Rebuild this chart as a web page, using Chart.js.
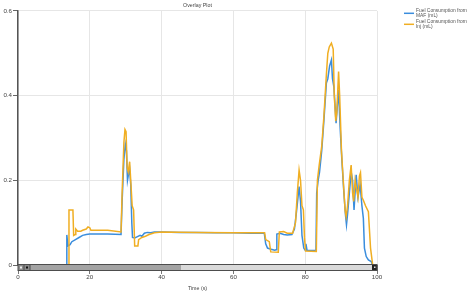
<!DOCTYPE html>
<html>
<head>
<meta charset="utf-8">
<script src="https://cdn.jsdelivr.net/npm/chart.js@4/dist/chart.umd.min.js"></script>
<style>
  html, body { margin: 0; padding: 0; background: #fff; }
  canvas { display: block; }
</style>
</head>
<body>
<canvas id="chart" width="474" height="297"></canvas>
<script>
/* ===================== DATA ===================== */
const mafTime = [0, 13.4, 13.6, 13.9, 14.5, 15, 16, 17, 18, 19, 20, 25, 28.7, 29.0, 29.5, 29.9, 30.2, 30.5, 30.8, 31.1, 31.4, 31.7, 31.9, 32.5, 33, 34, 34.5, 35.2, 36, 37, 38, 40, 45, 50, 55, 60, 65, 68.6, 69, 69.5, 70.5, 71.5, 71.9, 72.1, 73, 74, 75, 76.3, 77, 77.5, 78, 78.3, 78.7, 79.1, 79.6, 80, 80.2, 80.5, 82, 83.0, 83.2, 83.6, 84, 84.6, 85.2, 85.9, 86.3, 86.8, 87.3, 87.6, 88, 88.6, 88.9, 89.3, 89.7, 90.2, 90.7, 91.2, 91.5, 91.8, 92.3, 92.8, 93.2, 93.6, 94.2, 94.7, 95.3, 95.8, 96.2, 96.5, 97, 97.6, 98.4, 98.8, 100];
const mafValues = [0, 0, 0.071, 0.045, 0.048, 0.055, 0.06, 0.065, 0.07, 0.072, 0.073, 0.073, 0.072, 0.15, 0.25, 0.285, 0.27, 0.2, 0.215, 0.225, 0.19, 0.1, 0.065, 0.064, 0.066, 0.07, 0.068, 0.075, 0.077, 0.076, 0.078, 0.078, 0.077, 0.077, 0.076, 0.076, 0.075, 0.075, 0.05, 0.04, 0.037, 0.035, 0.036, 0.073, 0.075, 0.072, 0.071, 0.072, 0.085, 0.12, 0.16, 0.185, 0.15, 0.07, 0.04, 0.035, 0.05, 0.035, 0.034, 0.035, 0.17, 0.2, 0.22, 0.27, 0.34, 0.43, 0.44, 0.47, 0.484, 0.44, 0.42, 0.335, 0.37, 0.413, 0.33, 0.25, 0.18, 0.12, 0.095, 0.12, 0.17, 0.22, 0.2, 0.13, 0.213, 0.16, 0.19, 0.14, 0.11, 0.04, 0.02, 0.012, 0.008, 0, 0];

const injTime = [0, 14.1, 14.2, 15.3, 15.5, 15.9, 16.1, 16.6, 17.5, 18, 19, 19.5, 20, 20.3, 25, 28.7, 29.0, 29.5, 29.8, 30.1, 30.4, 30.7, 31.1, 31.4, 31.8, 32.2, 32.5, 33.4, 33.6, 34.5, 35.5, 36.5, 38, 40, 50, 60, 68.7, 69, 70, 70.4, 72.5, 72.8, 74, 75, 76.5, 77.3, 77.8, 78.3, 78.7, 79.1, 79.5, 79.8, 80.1, 83.1, 83.4, 83.9, 84.6, 85.2, 85.9, 86.3, 86.7, 87.3, 87.8, 88.1, 88.5, 88.8, 89.3, 89.6, 90.1, 90.6, 91.1, 91.4, 91.8, 92.3, 92.8, 93.2, 93.5, 93.9, 94.3, 94.7, 95.1, 95.4, 95.8, 96.2, 96.8, 97.6, 98.2, 98.8, 100];
const injValues = [0, 0, 0.13, 0.13, 0.07, 0.072, 0.085, 0.08, 0.08, 0.082, 0.085, 0.09, 0.088, 0.082, 0.082, 0.078, 0.17, 0.29, 0.32, 0.315, 0.23, 0.22, 0.244, 0.2, 0.14, 0.13, 0.045, 0.045, 0.06, 0.065, 0.068, 0.072, 0.076, 0.078, 0.077, 0.076, 0.076, 0.06, 0.055, 0.031, 0.03, 0.078, 0.079, 0.075, 0.075, 0.1, 0.17, 0.224, 0.2, 0.14, 0.13, 0.064, 0.033, 0.032, 0.2, 0.236, 0.28, 0.35, 0.45, 0.5, 0.515, 0.524, 0.51, 0.4, 0.34, 0.36, 0.457, 0.4, 0.27, 0.2, 0.13, 0.114, 0.14, 0.2, 0.236, 0.17, 0.15, 0.2, 0.18, 0.16, 0.21, 0.218, 0.16, 0.153, 0.14, 0.126, 0.04, 0, 0];

const seriesNames = [["Fuel Consumption from", "MAF (mL)"], ["Fuel Consumption from", "Inj (mL)"]];
const seriesColors = ["#3a8ddd", "#f0ae22"];
const xTicks = [0, 20, 40, 60, 80, 100];
const yTicks = [0, 0.2, 0.4, 0.6];

const FONT = "'Liberation Sans', Arial, sans-serif";
const toPoints = (xs, ys) => xs.map((x, i) => ({ x, y: ys[i] }));

/* ===================== PLUGINS ===================== */
// scrollbar under the plot + legend at the right
const extras = {
  id: "extras",
  afterDraw(chart) {
    const ctx = chart.ctx;
    const { left, right, bottom } = chart.chartArea;
    const xs = chart.scales.x;
    ctx.save();

    // scrollbar
    const y0 = bottom - 0.5, h = 6;
    ctx.fillStyle = "#d9d9d9";
    ctx.fillRect(left, y0, right - left, h);
    ctx.fillStyle = "#a3a3a3";
    ctx.fillRect(left + 12, y0, xs.getPixelForValue(45.4) - left - 12, h);
    ctx.fillStyle = "#8a8a8a";
    ctx.fillRect(left, y0, 12, h);
    ctx.fillStyle = "#222";
    ctx.fillRect(right - 5, y0, 5, h);
    ctx.strokeStyle = "#4d4d4d";
    ctx.lineWidth = 1;
    ctx.strokeRect(left, y0, right - left, h);
    ctx.beginPath();
    ctx.moveTo(left + 6, y0); ctx.lineTo(left + 6, y0 + h);
    ctx.moveTo(left + 12, y0); ctx.lineTo(left + 12, y0 + h);
    ctx.stroke();
    ctx.fillStyle = "#eee";
    ctx.fillRect(left + 2, y0 + 2, 2, 2);
    ctx.fillStyle = "#111";
    ctx.fillRect(left + 8, y0 + 2, 2, 2);
    ctx.fillStyle = "#ddd";
    ctx.fillRect(right - 3, y0 + 2, 1.5, 1.5);

    // legend
    const lx = 404, ly = [13.3, 24.3];
    ctx.font = "4.9px " + FONT;
    ctx.textBaseline = "middle";
    ctx.fillStyle = "#555";
    chart.data.datasets.forEach((ds, i) => {
      ctx.strokeStyle = ds.borderColor;
      ctx.lineWidth = 1.5;
      ctx.beginPath();
      ctx.moveTo(lx, ly[i]);
      ctx.lineTo(lx + 10, ly[i]);
      ctx.stroke();
      seriesNames[i].forEach((t, j) => ctx.fillText(t, lx + 12, ly[i] - 2.3 + j * 4.4));
    });
    ctx.restore();
  }
};

/* ===================== CHART ===================== */
new Chart(document.getElementById("chart"), {
  type: "line",
  data: {
    datasets: [
      { label: seriesNames[0].join(" "), data: toPoints(mafTime, mafValues), borderColor: seriesColors[0], order: 2 },
      { label: seriesNames[1].join(" "), data: toPoints(injTime, injValues), borderColor: seriesColors[1], order: 1 }
    ]
  },
  options: {
    responsive: false,
    animation: false,
    devicePixelRatio: 1,
    layout: { padding: { left: 0, right: 97, top: 0, bottom: 0 } },
    elements: {
      point: { radius: 0 },
      line: { borderWidth: 1.5, tension: 0 }
    },
    plugins: {
      legend: { display: false },
      tooltip: { enabled: false },
      title: {
        display: true,
        text: "Overlay Plot",
        fullSize: false,
        color: "#444",
        font: { family: FONT, size: 5.3, weight: "normal" },
        padding: { top: 2, bottom: 2.6 }
      }
    },
    scales: {
      x: {
        type: "linear",
        min: 0, max: 100,
        afterBuildTicks: axis => { axis.ticks = xTicks.map(v => ({ value: v })); },
        afterFit: axis => { axis.height = 32; },
        grid: { color: "#e6e6e6", tickColor: "#777", tickLength: 9, lineWidth: 1 },
        border: { display: false },
        ticks: { color: "#444", padding: 0, font: { family: FONT, size: 6.2 }, maxRotation: 0 },
        title: { display: true, text: "Time (s)", color: "#444", font: { family: FONT, size: 5.3 }, padding: { top: 0, bottom: 5 } }
      },
      y: {
        min: 0, max: 0.6,
        afterBuildTicks: axis => { axis.ticks = yTicks.map(v => ({ value: v })); },
        afterFit: axis => { axis.width = 18; },
        grid: { color: "#e6e6e6", tickColor: "#666", tickLength: 5, lineWidth: 1 },
        border: { color: "#555", width: 1.5 },
        ticks: { color: "#444", padding: 1, font: { family: FONT, size: 6.2 }, callback: v => String(v) }
      }
    }
  },
  plugins: [extras]
});
</script>
</body>
</html>
